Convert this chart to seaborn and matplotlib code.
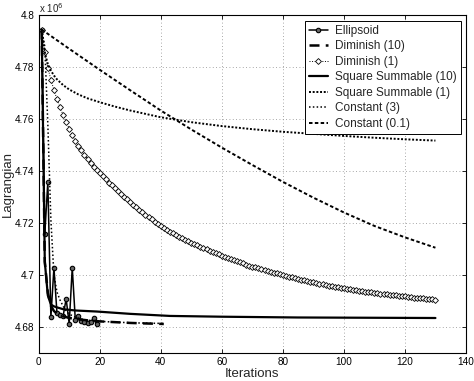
import numpy as np
import matplotlib
matplotlib.use("Agg")
import matplotlib.pyplot as plt
import seaborn as sns
from matplotlib.ticker import FuncFormatter

# values in units of 1e6
ell_iter = [1, 2, 3, 4, 5, 6, 7, 8, 9, 10, 11, 12, 13, 14, 15, 16, 17, 18, 19]
ell_val = [4.7945, 4.7156, 4.7358, 4.6836, 4.7027, 4.6851, 4.6846, 4.6840, 4.6907, 4.6810,
           4.7027, 4.6826, 4.6840, 4.6822, 4.6816, 4.6812, 4.6818, 4.6832, 4.6809]

dim10_iter = [1, 2, 3, 4, 5, 6, 8, 10, 13, 16, 20, 25, 30, 35, 41]
dim10_val = [4.7945, 4.7050, 4.6930, 4.6880, 4.6860, 4.6850, 4.6840, 4.6833, 4.6828,
             4.6824, 4.6820, 4.6817, 4.6814, 4.6812, 4.6810]

dim1_iter = np.arange(1, 131)
dim1_val = [
    4.7945, 4.7857, 4.7798, 4.7752, 4.7712, 4.7677, 4.7645, 4.7616, 4.7589, 4.7563,
    4.7539, 4.7517, 4.7497, 4.7479, 4.7462, 4.7446, 4.7431, 4.7417, 4.7404, 4.7391,
    4.7379, 4.7367, 4.7355, 4.7344, 4.7333, 4.7322, 4.7311, 4.7300, 4.7290, 4.7280,
    4.7270, 4.7260, 4.7250, 4.7241, 4.7232, 4.7223, 4.7214, 4.7205, 4.7197, 4.7189,
    4.7181, 4.7173, 4.7165, 4.7159, 4.7153, 4.7147, 4.7141, 4.7135, 4.7129, 4.7123,
    4.7118, 4.7113, 4.7108, 4.7103, 4.7098, 4.7093, 4.7088, 4.7083, 4.7078, 4.7073,
    4.7069, 4.7065, 4.7060, 4.7056, 4.7052, 4.7048, 4.7044, 4.7039, 4.7035, 4.7031,
    4.7028, 4.7025, 4.7021, 4.7018, 4.7015, 4.7012, 4.7008, 4.7005, 4.7002, 4.6998,
    4.6995, 4.6993, 4.6990, 4.6987, 4.6984, 4.6981, 4.6979, 4.6976, 4.6973, 4.6970,
    4.6967, 4.6965, 4.6963, 4.6960, 4.6958, 4.6956, 4.6954, 4.6952, 4.6949, 4.6947,
    4.6945, 4.6944, 4.6942, 4.6940, 4.6938, 4.6937, 4.6935, 4.6933, 4.6932, 4.6930,
    4.6929, 4.6927, 4.6926, 4.6924, 4.6923, 4.6922, 4.6920, 4.6919, 4.6917, 4.6916,
    4.6915, 4.6914, 4.6912, 4.6911, 4.6910, 4.6909, 4.6908, 4.6906, 4.6905, 4.6904,
]

ss10_iter = [1, 2, 3, 4, 5, 6, 8, 12, 19, 30, 43, 60, 85, 130]
ss10_val = [4.7945, 4.7050, 4.6920, 4.6885, 4.6878, 4.6874, 4.6867, 4.6862, 4.6858,
            4.6849, 4.6841, 4.6838, 4.6835, 4.6833]

ss1_iter = [1, 2, 3, 4, 5, 6, 8, 10, 13, 16, 20, 25, 30, 40, 50, 60, 70, 80, 90,
            100, 110, 120, 130]
ss1_val = [4.7945, 4.7857, 4.7812, 4.7787, 4.7768, 4.7753, 4.7731, 4.7714, 4.7695,
           4.7680, 4.7665, 4.7648, 4.7633, 4.7607, 4.7588, 4.7573, 4.7561, 4.7551,
           4.7543, 4.7535, 4.7528, 4.7522, 4.7517]

c3_iter = [1, 2, 3, 4, 5, 6, 7, 8, 9, 10, 12, 15, 19, 25, 32, 41]
c3_val = [4.7945, 4.7880, 4.7579, 4.7211, 4.6999, 4.6933, 4.6902, 4.6879, 4.6859,
          4.6848, 4.6836, 4.6826, 4.6821, 4.6817, 4.6814, 4.6812]

c01_iter = [1, 10, 20, 30, 40, 50, 60, 70, 80, 90, 100, 110, 120, 130]
c01_val = [4.7945, 4.7871, 4.7790, 4.7711, 4.7633, 4.7560, 4.7490, 4.7423, 4.7358,
           4.7297, 4.7240, 4.7188, 4.7144, 4.7104]

y_ticks = [4.68, 4.70, 4.72, 4.74, 4.76, 4.78, 4.80]
x_ticks = [0, 20, 40, 60, 80, 100, 120, 140]

sns.set_theme(style="white")
plt.rcParams["font.family"] = ["Liberation Sans", "DejaVu Sans"]

fig = plt.figure(figsize=(4.74, 3.81), dpi=100)
ax = fig.add_axes([0.0816, 0.0748, 0.9014, 0.885])

kw = dict(ax=ax, color="black", sort=False)
sns.lineplot(x=ell_iter, y=ell_val, linestyle="-", linewidth=1.1, marker="o",
             markersize=3.2, markerfacecolor="0.4", markeredgecolor="black",
             markeredgewidth=0.8, label="Ellipsoid", **kw)
sns.lineplot(x=dim10_iter, y=dim10_val, linestyle=(0, (4, 2.5)), linewidth=1.8,
             label="Diminish (10)", **kw)
sns.lineplot(x=dim1_iter, y=dim1_val, linestyle=":", linewidth=0.7, marker="D",
             markersize=3.0, markerfacecolor="white", markeredgecolor="black",
             markeredgewidth=0.6, label="Diminish (1)", **kw)
sns.lineplot(x=ss10_iter, y=ss10_val, linestyle="-", linewidth=1.6,
             label="Square Summable (10)", **kw)
sns.lineplot(x=ss1_iter, y=ss1_val, linestyle=(0, (1, 0.9)), linewidth=1.4,
             label="Square Summable (1)", **kw)
sns.lineplot(x=c3_iter, y=c3_val, linestyle=(0, (1, 1.5)), linewidth=1.1,
             label="Constant (3)", **kw)
sns.lineplot(x=c01_iter, y=c01_val, linestyle=(0, (1.8, 1.2)), linewidth=1.4,
             label="Constant (0.1)", **kw)

ax.set_xlim(0, 140)
ax.set_ylim(4.67, 4.80)
ax.set_xticks(x_ticks)
ax.set_yticks(y_ticks)
ax.yaxis.set_major_formatter(FuncFormatter(lambda v, p: f"{v:g}"))
ax.tick_params(direction="in", length=3, width=0.6, labelsize=7.2, pad=3,
               top=True, right=True, bottom=True, left=True, colors="black")
ax.grid(True, color="0.55", linestyle=(0, (1, 3)), linewidth=0.6)
for sp in ax.spines.values():
    sp.set_color("black")
    sp.set_linewidth(0.8)

ax.set_xlabel("Iterations", fontsize=9.5, va="top")
ax.set_ylabel("Lagrangian", fontsize=9.5)
ax.xaxis.set_label_coords(0.5, -0.047)
ax.yaxis.set_label_coords(-0.057, 0.5)
ax.text(0.0, 1.002, r"x 10$^{6}$", transform=ax.transAxes, fontsize=7,
        ha="left", va="bottom")

leg = ax.legend(loc="upper right", fontsize=8.5, frameon=True, fancybox=False,
                framealpha=1, edgecolor="black", handlelength=1.6,
                handletextpad=0.6, labelspacing=0.3, borderpad=0.35,
                borderaxespad=0.45)
leg.get_frame().set_linewidth(0.7)

fig.savefig("out.png", dpi=100)
